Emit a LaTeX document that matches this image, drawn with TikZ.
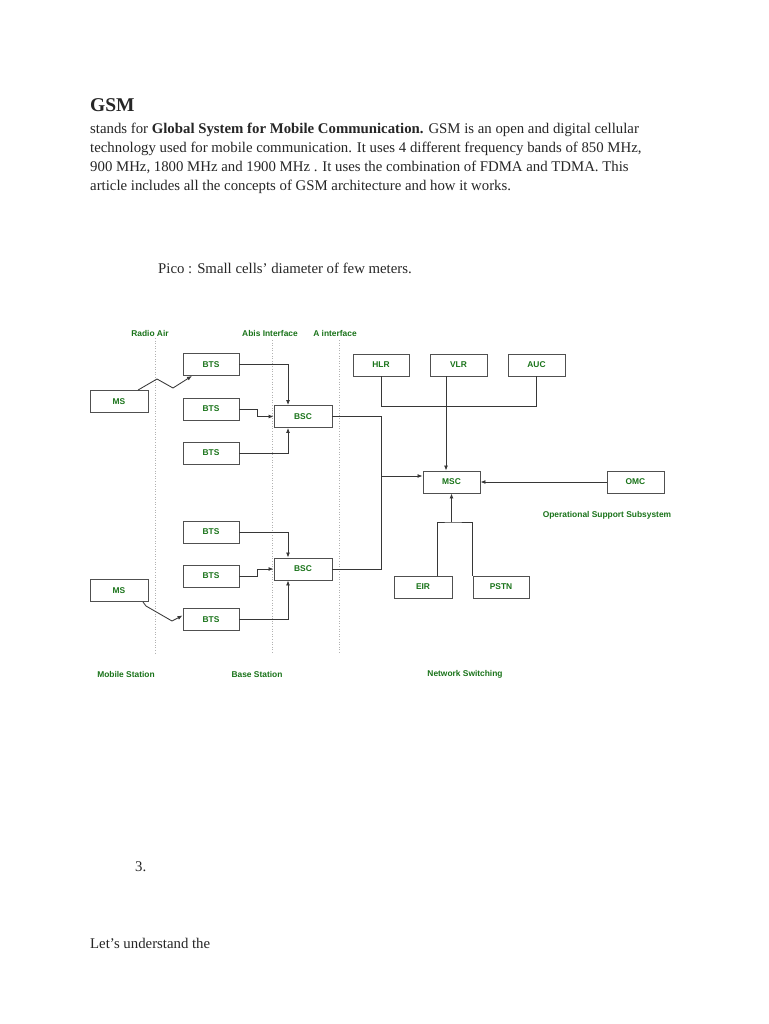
\documentclass[tikz,border=0pt]{standalone}
\usepackage{fontspec}
\setmainfont{Liberation Serif}
\newfontfamily\arialf{Liberation Sans}
\usetikzlibrary{arrows.meta}
\definecolor{gsmgreen}{RGB}{25,115,25}
\definecolor{boxline}{RGB}{80,80,80}
\definecolor{connline}{RGB}{55,55,55}
\tikzset{
  unit/.style={draw=boxline, line width=0.9pt, minimum width=56pt, minimum height=22pt, inner sep=0pt,
    font=\arialf\bfseries\fontsize{8.4}{9}\selectfont, text=gsmgreen},
  glabel/.style={font=\arialf\bfseries\fontsize{8.4}{9}\selectfont, text=gsmgreen, inner sep=0pt},
  conn/.style={draw=connline, line width=0.85pt},
  arr/.style={conn, -{Latex[length=5pt,width=4pt]}},
  vline/.style={draw=gray!60, line width=0.6pt, dotted},
  body/.style={font=\fontsize{14.8}{19}\selectfont, anchor=base west, inner sep=0pt, text=black!85}
}
\begin{document}
\begin{tikzpicture}[x=1pt,y=-1pt]
\useasboundingbox (0,0) rectangle (768,1024);
\fill[white] (0,0) rectangle (768,1024);
% text
\node[body, font=\bfseries\fontsize{19.5}{24}\selectfont] (title) at (90,112) {GSM};
\node[body] (l1) at (90,134) {stands for \textbf{Global System for Mobile Communication.} GSM is an open and digital cellular};
\node[body] (l2) at (90,153) {technology used for mobile communication. It uses 4 different frequency bands of 850 MHz,};
\node[body] (l3) at (90,172) {900 MHz, 1800 MHz and 1900 MHz . It uses the combination of FDMA and TDMA. This};
\node[body] (l4) at (90,191) {article includes all the concepts of GSM architecture and how it works.};
\node[body] (pico) at (158,273) {Pico : Small cells’ diameter of few meters.};
\node[body] (three) at (135,871) {3.};
\node[body] (lets) at (90,948) {Let’s understand the};
% vertical interface lines
\draw[vline] (155,338) -- (155,653);
\draw[vline] (272,340) -- (272,653);
\draw[vline] (339,340) -- (339,653);
\node[glabel] (radio) at (150,333) {Radio Air};
\node[glabel] (abis) at (270,333) {Abis Interface};
\node[glabel] (aif) at (335,333) {A interface};
\node[glabel] (mslab) at (126,674) {Mobile Station};
\node[glabel] (bslab) at (257,674) {Base Station};
\node[glabel] (nslab) at (465,674) {Network Switching};
\node[glabel] (osslab) at (607,515) {Operational Support Subsystem};
% boxes
\node[unit] (bts1) at (211,364.5) {BTS};
\node[unit] (bts2) at (211,409) {BTS};
\node[unit] (bts3) at (211,453) {BTS};
\node[unit] (bts4) at (211,532) {BTS};
\node[unit] (bts5) at (211,576) {BTS};
\node[unit] (bts6) at (211,619.5) {BTS};
\node[unit, minimum width=58pt] (ms1) at (119,401.5) {MS};
\node[unit, minimum width=58pt] (ms2) at (119,590.5) {MS};
\node[unit, minimum width=58pt] (bsc1) at (303,416.5) {BSC};
\node[unit, minimum width=58pt] (bsc2) at (303,569) {BSC};
\node[unit] (hlr) at (381,365) {HLR};
\node[unit, minimum width=57pt] (vlr) at (458.5,365) {VLR};
\node[unit, minimum width=57pt] (auc) at (536.5,365) {AUC};
\node[unit, minimum width=57pt] (msc) at (451.5,482) {MSC};
\node[unit, minimum width=57pt] (omc) at (635.5,482) {OMC};
\node[unit, minimum width=58pt] (eir) at (423,587) {EIR};
\node[unit] (pstn) at (501,587) {PSTN};
% radio links
\draw[arr] ([xshift=19pt]ms1.north) -- (157,379) -- (173,388) -- ([xshift=-19pt]bts1.south);
\draw[arr] ([xshift=24pt]ms2.south) -- (146,606) -- (172,621) -- ([yshift=4pt]bts6.west);
% BTS to BSC
\draw[arr] (bts1.east) -| ([xshift=-15pt]bsc1.north);
\draw[arr] (bts2.east) -- ++(18,0) |- (bsc1.west);
\draw[arr] (bts3.east) -| ([xshift=-15pt]bsc1.south);
\draw[arr] (bts4.east) -| ([xshift=-15pt]bsc2.north);
\draw[arr] (bts5.east) -- ++(18,0) |- (bsc2.west);
\draw[arr] (bts6.east) -| ([xshift=-15pt]bsc2.south);
% BSC to MSC
\coordinate (j) at (381,476);
\draw[conn] (bsc1.east) -| (381,569) -- (bsc2.east);
\draw[arr] (j) -- (msc.west |- j);
% registers
\draw[conn] (hlr.south) -- ++(0,30) -| (auc.south);
\draw[arr] ([xshift=-12.5pt]vlr.south) -- ([xshift=-12.5pt]vlr.south |- msc.north);
\draw[arr] (omc.west) -- (msc.east);
% EIR / PSTN
\coordinate (k) at (451.5,522);
\draw[conn] ([xshift=14pt]eir.north) |- (k) -| (pstn.north west);
\draw[arr] (k) -- (msc.south);
\end{tikzpicture}
\end{document}
